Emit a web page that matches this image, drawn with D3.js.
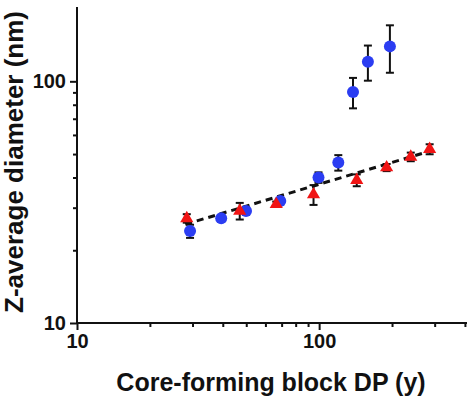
<!DOCTYPE html>
<html>
<head>
<meta charset="utf-8">
<script src="https://cdn.jsdelivr.net/npm/d3@7"></script>
<style>
  body { margin: 0; background: #fff; }
  text { font-family: "Liberation Sans", Arial, sans-serif; font-weight: bold; }
</style>
</head>
<body>
<div id="chart"></div>
<script>
// blue circles
var blueX = [29.3, 39.4, 49.9, 69.1, 99.4, 120, 138, 159, 196];
var blueY = [24.0, 27.1, 29.1, 32.0, 40.0, 46.1, 90.3, 120.6, 139.5];
var blueErr = [1.5, 0.8, 1.0, 0.8, 2.0, 3.4, 13, 20, 31];
// red triangles
var redX = [28.4, 47.0, 66.5, 94.8, 143, 190, 239, 286];
var redY = [27.1, 29.1, 31.0, 34.0, 39.0, 44.0, 48.7, 52.4];
var redErr = [1.1, 2.3, 0.8, 3.2, 2.2, 1.5, 2.0, 2.5];
// dashed fit
var fitX = [28, 290];
var fitY = [25.6, 51.6];

var xMajor = [10, 100];
var xMinor = [20, 30, 40, 50, 60, 70, 80, 90, 200, 300, 400];
var yMajor = [10, 100];
var yMinor = [20, 30, 40, 50, 60, 70, 80, 90];

var W = 474, H = 398;
var svg = d3.select("#chart").append("svg").attr("width", W).attr("height", H);

var x = d3.scaleLog().domain([10, 408]).range([77, 467]);
var y = d3.scaleLog().domain([10, 203]).range([323, 7]);

// axes
var gx = svg.append("g").attr("transform", "translate(0,323)");
gx.call(d3.axisBottom(x).tickValues(xMinor).tickSize(4).tickFormat(""));
gx.call(function(g){
  g.append("g").call(d3.axisBottom(x).tickValues(xMajor).tickSize(7).tickPadding(4).tickFormat(d3.format("d")));
});
var gy = svg.append("g").attr("transform", "translate(77,0)");
gy.call(d3.axisLeft(y).tickValues(yMinor).tickSize(4).tickFormat(""));
gy.call(function(g){
  g.append("g").call(d3.axisLeft(y).tickValues(yMajor).tickSize(7).tickPadding(4).tickFormat(d3.format("d")));
});
svg.selectAll(".domain").attr("stroke", "#111").attr("stroke-width", 2);
svg.selectAll(".tick line").attr("stroke", "#111").attr("stroke-width", 2);
svg.selectAll(".tick text").attr("font-size", 20).attr("fill", "#111")
  .attr("font-family", "'Liberation Sans', Arial, sans-serif").attr("font-weight", "bold");
gx.selectAll(".domain").attr("d", "M77,0H467");
gy.selectAll(".domain").attr("d", "M0,323V7");

// titles
svg.append("text").attr("x", 271).attr("y", 391).attr("text-anchor", "middle")
  .attr("font-size", 25).attr("fill", "#111").text("Core-forming block DP (y)");
svg.append("text").attr("transform", "translate(23,162) rotate(-90)").attr("text-anchor", "middle")
  .attr("font-size", 26).attr("fill", "#111").text("Z-average diameter (nm)");

// dashed fit line
svg.append("path")
  .datum(d3.range(fitX.length))
  .attr("d", d3.line().x(function(i){ return x(fitX[i]); }).y(function(i){ return y(fitY[i]); }))
  .attr("stroke", "#111").attr("stroke-width", 3).attr("stroke-dasharray", "7,5").attr("fill", "none");

function errorBars(xs, ys, es) {
  var g = svg.append("g").attr("stroke", "#111").attr("stroke-width", 2);
  xs.forEach(function(xv, i){
    var cx = x(xv), top = y(ys[i] + es[i]), bot = y(ys[i] - es[i]);
    g.append("line").attr("x1", cx).attr("x2", cx).attr("y1", top).attr("y2", bot);
    g.append("line").attr("x1", cx - 4).attr("x2", cx + 4).attr("y1", top).attr("y2", top);
    g.append("line").attr("x1", cx - 4).attr("x2", cx + 4).attr("y1", bot).attr("y2", bot);
  });
}
errorBars(blueX, blueY, blueErr);
errorBars(redX, redY, redErr);

svg.append("g").selectAll("circle").data(d3.range(blueX.length)).enter().append("circle")
  .attr("cx", function(i){ return x(blueX[i]); })
  .attr("cy", function(i){ return y(blueY[i]); })
  .attr("r", 6).attr("fill", "#2b3df2");

var tri = d3.symbol().type(d3.symbolTriangle).size(75);
svg.append("g").selectAll("path").data(d3.range(redX.length)).enter().append("path")
  .attr("d", tri)
  .attr("transform", function(i){ return "translate(" + x(redX[i]) + "," + y(redY[i]) + ")"; })
  .attr("fill", "#f01414");
</script>
</body>
</html>
